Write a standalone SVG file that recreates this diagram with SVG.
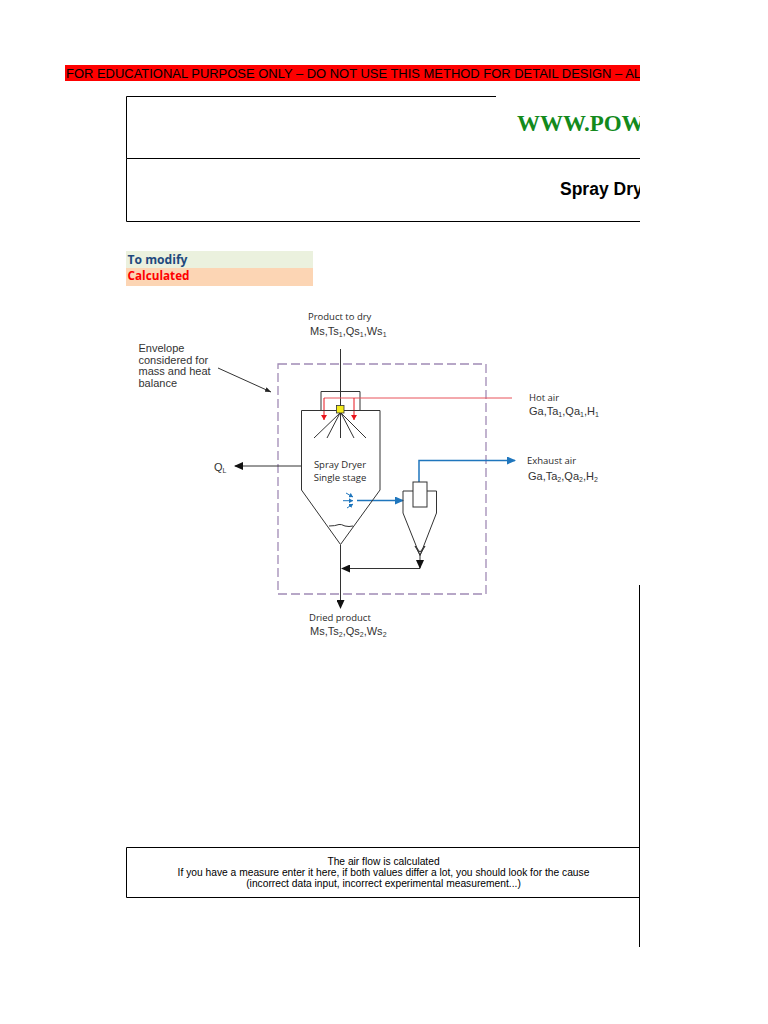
<svg xmlns="http://www.w3.org/2000/svg" width="768" height="1024" viewBox="0 0 768 1024">
<style>
text{font-family:"Liberation Sans",Arial,sans-serif;fill:#000}
.d{fill:#333;font-size:11px}
.c{font-family:"Open Sans","Liberation Sans",sans-serif;fill:#2a2a2a;font-size:9.5px}
.v{fill:#333;font-size:11px}
.s{font-size:7px}
.l{fill:none;stroke:#333;stroke-width:1}
.b{font-size:10.250px;text-anchor:middle}
.sp{fill:none;stroke:#1f76bd;stroke-width:1}
</style>
<defs>
<clipPath id="page"><rect x="0" y="0" width="640" height="1024"/></clipPath>
<marker id="k" markerWidth="10" markerHeight="8" refX="8" refY="4" orient="auto" markerUnits="userSpaceOnUse"><path d="M0 0L9 4L0 8Z" fill="#111"/></marker>
<marker id="t" markerWidth="7" markerHeight="5" refX="6" refY="2.500" orient="auto" markerUnits="userSpaceOnUse"><path d="M0 0L6 2.500L0 5Z" fill="#222"/></marker>
<marker id="r" markerWidth="6" markerHeight="6" refX="5" refY="3" orient="auto" markerUnits="userSpaceOnUse"><path d="M0 0L5 3L0 6Z" fill="#e8141c"/></marker>
<marker id="u" markerWidth="10" markerHeight="8" refX="8" refY="4" orient="auto" markerUnits="userSpaceOnUse"><path d="M0 0L9 4L0 8Z" fill="#1f76bd"/></marker>
<marker id="m" markerWidth="5" markerHeight="5" refX="4" refY="2.500" orient="auto" markerUnits="userSpaceOnUse"><path d="M0 0L4 2.500L0 5Z" fill="#1f76bd"/></marker>
</defs>
<rect width="768" height="1024" fill="#fff"/>
<g id="banner"><rect x="65" y="65" width="575" height="16" fill="#fe0000"/>
<text x="66" y="77.500" font-size="12.400" textLength="575" lengthAdjust="spacingAndGlyphs" clip-path="url(#page)">FOR EDUCATIONAL PURPOSE ONLY – DO NOT USE THIS METHOD FOR DETAIL DESIGN – AL</text></g>
<g id="header" fill="none" stroke="#000" stroke-width="1">
<path d="M640 158.500H126.500V96.500H496M126.500 158.500V221.500H640"/>
<g clip-path="url(#page)" stroke="none">
<text x="517" y="131" font-size="23" font-weight="700" style="font-family:'Liberation Serif',serif;fill:#138a1c">WWW.POW</text>
<text x="560" y="195" font-size="17.500" font-weight="700">Spray Dry</text>
</g>
</g>
<g id="legend">
<rect x="126" y="251" width="187" height="17" fill="#ebf1de"/><rect x="126" y="268" width="187" height="18" fill="#fcd5b4"/>
<text x="127.500" y="263.500" font-size="12.500" font-weight="700" textLength="60" lengthAdjust="spacingAndGlyphs" style="font-family:'Open Sans',sans-serif;fill:#1f497d">To modify</text>
<text x="127.500" y="280" font-size="12.500" font-weight="700" textLength="62" lengthAdjust="spacingAndGlyphs" style="font-family:'Open Sans',sans-serif;fill:#fe0000">Calculated</text>
</g>
<g id="envelope"><rect x="278" y="364" width="208" height="230" fill="none" stroke="#a08ab5" stroke-width="1.300" stroke-dasharray="9 4"/>
<text class="d" x="138.500" y="352">Envelope</text><text class="d" x="138.500" y="363.500">considered for</text><text class="d" x="138.500" y="375">mass and heat</text><text class="d" x="138.500" y="387">balance</text>
</g>
<g id="connectors">
<path class="l" d="M218 368L271 392" marker-end="url(#t)"/>
<path class="l" d="M340.500 349V406"/>
<path class="l" d="M321 410V391.500H360V410"/>
<path d="M324 398H512" fill="none" stroke="#e8525a" stroke-width="1"/>
<path d="M324 398V420" fill="none" stroke="#e8141c" marker-end="url(#r)"/>
<path d="M354 398V420" fill="none" stroke="#e8141c" marker-end="url(#r)"/>
<path class="l" d="M301 466H235" marker-end="url(#k)"/>
<path d="M357 500.500H403" fill="none" stroke="#1f76bd" stroke-width="1.300" marker-end="url(#u)"/>
<path d="M419 482V460.500H515" fill="none" stroke="#1f76bd" stroke-width="1.500" marker-end="url(#u)"/>
<path class="l" d="M340.500 545V608" marker-end="url(#k)"/>
<path class="l" d="M420 568.500H342" marker-end="url(#k)"/>
<path class="l" d="M420 555V568" marker-end="url(#k)"/>
</g>
<g id="dryer">
<path class="l" d="M301.500 490V410.500H380V490L340.500 544.500Z"/>
<path class="l" d="M329 526Q335 526 339 524.500Q341 524 345 526Q349 527 353 526"/>
<rect x="336.500" y="405.500" width="7.500" height="7.500" fill="#f4ec1c" stroke="#333" stroke-width=".8"/>
<path class="l" d="M340 413L314 438M340 413L327 438M340.500 413V438M341 413L354 438M341 413L366 438"/>
<text class="c" x="340" y="468" text-anchor="middle">Spray Dryer</text><text class="c" x="340" y="480.500" text-anchor="middle">Single stage</text>
<path class="sp" d="M346 493L353 497" marker-end="url(#m)"/>
<path class="sp" d="M343 500.700H353" marker-end="url(#m)"/>
<path class="sp" d="M347 508L353 504" marker-end="url(#m)"/>
</g>
<g id="cyclone">
<path class="l" d="M413 491H403V513L420 555.500L436.500 513V491H427"/>
<rect x="413" y="482" width="14" height="25" fill="#fff" stroke="#333"/>
<path class="l" d="M415 546L420 552L425 546M415 546L420 555M425 546L420 555"/>
</g>
<g id="labels">
<text class="c" x="308" y="320">Product to dry</text>
<text class="v" x="310" y="335">Ms,Ts<tspan class="s" dy="2">1</tspan><tspan dy="-2">,Qs</tspan><tspan class="s" dy="2">1</tspan><tspan dy="-2">,Ws</tspan><tspan class="s" dy="2">1</tspan></text>
<text class="v" x="214" y="471">Q<tspan class="s" dy="2">L</tspan></text>
<text class="c" x="529" y="401">Hot air</text>
<text class="v" x="529" y="414.500">Ga,Ta<tspan class="s" dy="2">1</tspan><tspan dy="-2">,Qa</tspan><tspan class="s" dy="2">1</tspan><tspan dy="-2">,H</tspan><tspan class="s" dy="2">1</tspan></text>
<text class="c" x="527" y="464">Exhaust air</text>
<text class="v" x="528" y="480">Ga,Ta<tspan class="s" dy="2">2</tspan><tspan dy="-2">,Qa</tspan><tspan class="s" dy="2">2</tspan><tspan dy="-2">,H</tspan><tspan class="s" dy="2">2</tspan></text>
<text class="c" x="309" y="621">Dried product</text>
<text class="v" x="310" y="635">Ms,Ts<tspan class="s" dy="2">2</tspan><tspan dy="-2">,Qs</tspan><tspan class="s" dy="2">2</tspan><tspan dy="-2">,Ws</tspan><tspan class="s" dy="2">2</tspan></text>
</g>
<g id="note">
<path d="M640 847.500H126.500V897.500H640" fill="none" stroke="#000"/>
<text class="b" x="383.500" y="865">The air flow is calculated</text>
<text class="b" x="383.500" y="875.500">If you have a measure enter it here, if both values differ a lot, you should look for the cause</text>
<text class="b" x="383.500" y="886.500">(incorrect data input, incorrect experimental measurement...)</text>
</g>
<path d="M639.500 585V947" stroke="#000" fill="none"/>
</svg>
